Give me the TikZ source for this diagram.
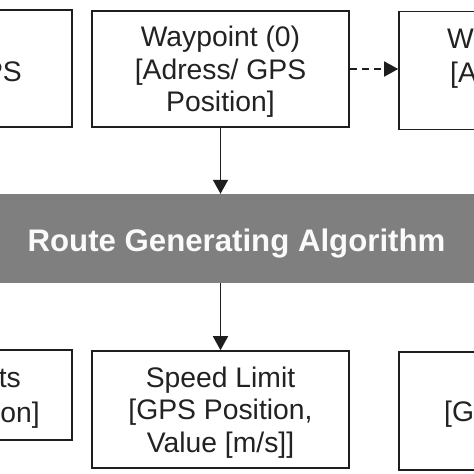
\documentclass[tikz,border=0pt]{standalone}
\usepackage{fontspec}
\setmainfont{Liberation Sans}
\usetikzlibrary{arrows.meta}
\definecolor{boxline}{HTML}{1E1E1E}
\definecolor{txt}{HTML}{222222}
\definecolor{bargray}{HTML}{7F7F7F}
\definecolor{bartext}{HTML}{FAFAFA}
\begin{document}
\begin{tikzpicture}[x=1pt,y=-1pt,
  box/.style={draw=boxline, line width=1.6pt, minimum width=257pt, minimum height=116pt,
    inner sep=0pt, align=center, font=\fontsize{28.3}{32.5}\selectfont, text=txt, text depth=0pt},
  frag/.style={inner sep=0pt, font=\fontsize{28.3}{32.5}\selectfont, text=txt},
  arr/.style={line width=1.6pt, draw=boxline, -{Triangle[width=15pt,length=14pt]}},
  dasharr/.style={arr, dash pattern=on 7pt off 5pt},
  barstyle/.style={fill=bargray, minimum width=474pt, minimum height=89pt, inner sep=0pt,
    text=bartext, font=\fontsize{31.2}{36}\selectfont\bfseries, text height=26.4pt, text depth=0pt}
]
\useasboundingbox (0,0) rectangle (474,474);
\clip (0,0) rectangle (474,474);
\fill[white] (0,0) rectangle (474,474);

% top row
\node[box, minimum height=117pt] (tl) at (-56.5,68.5) {};
\node[box] (tc) at (220.5,69) {Waypoint (0)\\{[}Adress/ GPS\\Position]};
\node[box, minimum height=118pt] (tr) at (527.5,70.5) {};

% bar
\node[barstyle] (bar) at (236.5,238.5) {Route Generating Algorithm};

% bottom row
\node[box, minimum height=90pt] (bl) at (-56.5,395) {};
\node[box, minimum height=117pt] (bc) at (220.5,409.5) {Speed Limit\\{[}GPS Position,\\Value [m/s]]};
\node[box, minimum height=118pt] (br) at (527.5,411) {};

% visible text fragments of cut-off boxes
\node[frag, anchor=base east] (tlA) at (22,81) {PS};
\node[frag, anchor=base west] (trA) at (447,48) {W};
\node[frag, anchor=base west] (trB) at (450,82) {{[}A};
\node[frag, anchor=base east] (blA) at (21,387) {ts};
\node[frag, anchor=base east] (blB) at (40,422) {on]};
\node[frag, anchor=base west] (brA) at (444,421) {{[}G};

% connectors
\draw[arr] (tc.south) -- (tc.south |- bar.north);
\draw[dasharr] (tc.east) -- (tc.east -| tr.west);
\draw[arr] (bar.south -| bc.north) -- (bc.north);
\end{tikzpicture}
\end{document}
